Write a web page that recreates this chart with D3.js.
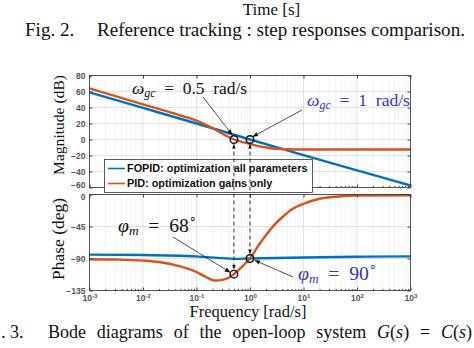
<!DOCTYPE html>
<html><head><meta charset="utf-8">
<script src="https://cdn.jsdelivr.net/npm/d3@7"></script>
<style>
body{margin:0;background:#fff;}
svg{display:block;}
.tk text{font-family:"Liberation Sans",Arial,sans-serif;font-size:8.5px;fill:#555;font-weight:bold;}
.serif{font-family:"Liberation Serif","Times New Roman",serif;}
</style></head>
<body>
<svg id="c" width="474" height="348"></svg>
<script>
// ---- data ----
const fopidMagW  = [0.001, 0.01, 0.1, 1, 10, 100, 1000];
const fopidMagDb = [59, 39.5, 20, 0, -19.5, -38.5, -57.5];
const pidMagW  = [0.001, 0.01, 0.05, 0.1, 0.2, 0.3, 0.5, 0.7, 1, 1.5, 2, 3, 5, 10, 100, 1000];
const pidMagDb = [64, 44, 30, 23.5, 14, 7.5, 0, -3, -5.5, -8.5, -10, -11.5, -12.2, -12.5, -12.5, -12.5];
const fopidPhW   = [0.001, 0.01, 0.1, 0.3, 0.5, 1, 10, 100, 1000];
const fopidPhDeg = [-84.5, -85, -87, -89.5, -90.5, -90, -88.5, -87.5, -87];
const pidPhW   = [0.001, 0.003, 0.01, 0.02, 0.05, 0.1, 0.15, 0.23, 0.3, 0.4, 0.5, 0.7, 1, 1.4, 2, 3, 4, 6, 10, 20, 50, 100, 1000];
const pidPhDeg = [-91, -91.5, -93, -95, -101, -109, -116, -121, -120, -117, -112, -102, -90, -73, -57, -41, -32, -21, -13, -6, -2.5, -1.5, -1];
const magTicks = [-60, -40, -20, 0, 20, 40, 60, 80];
const phTicks = [-135, -90, -45, 0];
const freqTickExps = [-3, -2, -1, 0, 1, 2, 3];
const seriesNames = ["FOPID: optimization all parameters", "PID: optimization gains only"];
const seriesColors = ["#0072BD", "#D95319"];
const crossW = [0.5, 1];        // gain crossover frequencies
const crossMag = [0, 0];
const crossPh = [-112, -90];

const svg = d3.select("#c");
const x = d3.scaleLog().domain([1e-3, 1e3]).range([89.5, 410.5]);
const yM = d3.scaleLinear().domain([-60, 80]).range([187.5, 75.5]);
const yP = d3.scaleLinear().domain([-135, 0]).range([290.5, 194.5]);

function fit(t, target){
  const fs = parseFloat(t.attr("font-size"));
  const w = t.node().getBBox().width;
  if (w > 0) t.attr("font-size", (fs * target / w).toFixed(2) + "px");
  return t;
}

const defs = svg.append("defs");
function mk(id, color, size){
  defs.append("marker").attr("id", id).attr("viewBox","0 0 10 10").attr("refX",9).attr("refY",5)
    .attr("markerWidth",size).attr("markerHeight",size).attr("orient","auto-start-reverse")
    .append("path").attr("d","M0,1 L10,5 L0,9 Z").attr("fill",color);
}
mk("ah","#111",7); mk("ahs","#111",5);

const minorW = [];
for (let e=-3;e<3;e++) for (let k=2;k<10;k++) minorW.push(k*Math.pow(10,e));
const majorW = freqTickExps.map(e=>Math.pow(10,e));

function panel(y, yt){
  const g = svg.append("g");
  const [x0,x1] = x.range(); const [yb,ytop] = y.range();
  g.append("rect").attr("x",x0).attr("y",ytop).attr("width",x1-x0).attr("height",yb-ytop).attr("fill","#fff");
  g.selectAll(".mn").data(minorW).join("line").attr("x1",d=>x(d)).attr("x2",d=>x(d)).attr("y1",ytop).attr("y2",yb)
    .attr("stroke","#ebebeb").attr("stroke-width",0.6);
  g.selectAll(".mj").data(majorW).join("line").attr("x1",d=>x(d)).attr("x2",d=>x(d)).attr("y1",ytop).attr("y2",yb)
    .attr("stroke","#d6d6d6").attr("stroke-width",0.7);
  g.selectAll(".hy").data(yt).join("line").attr("x1",x0).attr("x2",x1).attr("y1",d=>y(d)).attr("y2",d=>y(d))
    .attr("stroke","#d6d6d6").attr("stroke-width",0.7);
}
function frame(y, yt, showX, nudge){
  const [x0,x1] = x.range(); const [yb,ytop] = y.range();
  const ax = svg.append("g").attr("class","tk").attr("transform",`translate(${x0},0)`)
    .call(d3.axisLeft(y).tickValues(yt).tickSize(-3).tickPadding(4));
  ax.select(".domain").remove();
  ax.selectAll("line").attr("stroke","#444");
  ax.selectAll(".tick text").attr("dy", d => (nudge[d] !== undefined ? nudge[d] : 0.32) + "em");
  svg.append("g").attr("transform",`translate(${x1},0)`).call(d3.axisRight(y).tickValues(yt).tickSize(-3).tickFormat(""))
    .call(g=>{g.select(".domain").remove(); g.selectAll("line").attr("stroke","#444");});
  const bx = svg.append("g").attr("class","tk").attr("transform",`translate(0,${yb})`)
    .call(d3.axisBottom(x).tickValues(majorW).tickSize(-3).tickPadding(5).tickFormat(""));
  bx.select(".domain").remove(); bx.selectAll("line").attr("stroke","#444");
  svg.append("g").attr("transform",`translate(0,${yb})`)
    .call(d3.axisBottom(x).tickValues(minorW).tickSize(-1.5).tickFormat(""))
    .call(g=>{g.select(".domain").remove(); g.selectAll("line").attr("stroke","#444");});
  svg.append("g").attr("transform",`translate(0,${ytop})`)
    .call(d3.axisTop(x).tickValues(majorW).tickSize(-3).tickFormat(""))
    .call(g=>{g.select(".domain").remove(); g.selectAll("line").attr("stroke","#444");});
  if (showX){
    bx.selectAll(".tick").append("text").attr("y",10.5).attr("text-anchor","middle").attr("fill","#555")
      .attr("font-size","8px")
      .each(function(d){
        const t=d3.select(this); const e=Math.round(Math.log10(d));
        t.append("tspan").text("10");
        t.append("tspan").attr("dy",-3.5).attr("font-size","6px").text(e);
      });
  }
  svg.append("rect").attr("x",x0).attr("y",ytop).attr("width",x1-x0).attr("height",yb-ytop)
    .attr("fill","none").attr("stroke","#333").attr("stroke-width",0.8);
}

panel(yM, magTicks);
panel(yP, phTicks);

const lineM = d3.line().x(d=>x(d[0])).y(d=>yM(d[1])).curve(d3.curveMonotoneX);
const lineP = d3.line().x(d=>x(d[0])).y(d=>yP(d[1])).curve(d3.curveMonotoneX);
const zip = (a,b)=>a.map((v,i)=>[v,b[i]]);
svg.append("path").attr("d",lineM(zip(fopidMagW,fopidMagDb))).attr("fill","none").attr("stroke",seriesColors[0]).attr("stroke-width",2.4);
svg.append("path").attr("d",lineM(zip(pidMagW,pidMagDb))).attr("fill","none").attr("stroke",seriesColors[1]).attr("stroke-width",2.4);
svg.append("path").attr("d",lineP(zip(fopidPhW,fopidPhDeg))).attr("fill","none").attr("stroke",seriesColors[0]).attr("stroke-width",2.4);
svg.append("path").attr("d",lineP(zip(pidPhW,pidPhDeg))).attr("fill","none").attr("stroke",seriesColors[1]).attr("stroke-width",2.4);

frame(yM, magTicks, false, {"-60": 0.05});
frame(yP, phTicks, true, {"0": 0.6});

// legend
const lg = svg.append("g");
lg.append("rect").attr("x",104.5).attr("y",159.5).attr("width",208).attr("height",33).attr("fill","#fff").attr("stroke","#333").attr("stroke-width",0.8);
seriesNames.forEach((n,i)=>{
  const yy = 168.5 + i*15;
  lg.append("line").attr("x1",108).attr("x2",125).attr("y1",yy).attr("y2",yy).attr("stroke",seriesColors[i]).attr("stroke-width",1.6);
  const t = lg.append("text").attr("x",127).attr("y",yy+3.8).attr("font-family","Liberation Sans, Arial, sans-serif")
    .attr("font-size","10px").attr("font-weight","bold").attr("fill","#111").text(n);
  if (i === 0) fit(t, 181);
  else t.attr("font-size", lg.select("text").attr("font-size"));
});

// dashed double arrows between panels
crossW.forEach((w,i)=>{
  svg.append("line").attr("x1",x(w)).attr("x2",x(w)).attr("y1",yM(crossMag[i])+5).attr("y2",yP(crossPh[i])-5)
    .attr("stroke","#222").attr("stroke-width",0.9).attr("stroke-dasharray","4,3")
    .attr("marker-start","url(#ahs)").attr("marker-end","url(#ahs)");
});
crossW.forEach((w,i)=>{
  svg.append("circle").attr("cx",x(w)).attr("cy",yM(crossMag[i])).attr("r",3.8).attr("fill","none").attr("stroke","#111").attr("stroke-width",1.4);
  svg.append("circle").attr("cx",x(w)).attr("cy",yP(crossPh[i])).attr("r",3.8).attr("fill","none").attr("stroke","#111").attr("stroke-width",1.4);
});

function arrow(x1,y1,x2,y2){
  svg.append("line").attr("x1",x1).attr("y1",y1).attr("x2",x2).attr("y2",y2).attr("stroke","#222").attr("stroke-width",0.8).attr("marker-end","url(#ah)");
}
arrow(203, 97, x(0.5)-2, yM(0)-5);
arrow(302, 110, x(1)+3, yM(0)-3);
arrow(173, 237, x(0.5)-4, yP(-112)-2);
arrow(293, 277, x(1)+5, yP(-90)+2);

function mathLabel(xp, yp, sym, sub, rest, col, deg, target){
  const t = svg.append("text").attr("class","serif").attr("x",xp).attr("y",yp).attr("font-size","17px").attr("fill",col).attr("xml:space","preserve");
  t.append("tspan").attr("font-style","italic").text(sym);
  t.append("tspan").attr("font-style","italic").attr("font-size","0.68em").attr("dy","0.25em").text(sub);
  t.append("tspan").attr("dy","-0.17em").text("  =  " + rest);
  if (deg) t.append("tspan").attr("font-size","0.62em").attr("dy","-0.7em").text("∘");
  fit(t, target);
}
mathLabel(132, 94, "ω", "gc", "0.5  rad/s", "#111", false, 115);
mathLabel(307, 106, "ω", "gc", "1  rad/s", "#3333cc", false, 103);
mathLabel(118, 232, "φ", "m", "68", "#111", true, 79);
mathLabel(298, 280, "φ", "m", "90", "#3333cc", true, 79);

// axis titles
fit(svg.append("text").attr("class","serif").attr("transform","translate(64,125) rotate(-90)").attr("text-anchor","middle").attr("font-size","16px").attr("fill","#111").text("Magnitude (dB)"), 100);
fit(svg.append("text").attr("class","serif").attr("transform","translate(64,239) rotate(-90)").attr("text-anchor","middle").attr("font-size","16px").attr("fill","#111").text("Phase (deg)"), 82);
svg.append("text").attr("class","serif").attr("x",248).attr("y",317).attr("text-anchor","middle").attr("font-size","16.5px").attr("fill","#111").text("Frequency [rad/s]");

// captions
svg.append("text").attr("class","serif").attr("x",271.5).attr("y",15).attr("text-anchor","middle").attr("font-size","17px").attr("fill","#111").text("Time [s]");
const cap2a = svg.append("text").attr("class","serif").attr("x",25).attr("y",36).attr("font-size","17px").attr("fill","#111").text("Fig. 2.");
const cap2b = fit(svg.append("text").attr("class","serif").attr("x",97).attr("y",36).attr("font-size","17px").attr("fill","#111").text("Reference tracking : step responses comparison."), 368);
cap2a.attr("font-size", cap2b.attr("font-size"));
svg.append("text").attr("class","serif").attr("x",1).attr("y",337.5).attr("font-size","18px").attr("fill","#111").text(". 3.");
const c3 = svg.append("text").attr("class","serif").attr("x",48).attr("y",337.5).attr("font-size","18px").attr("fill","#111").attr("xml:space","preserve");
c3.append("tspan").text("Bode diagrams of the open-loop system ");
c3.append("tspan").attr("font-style","italic").text("G");
c3.append("tspan").text("(");
c3.append("tspan").attr("font-style","italic").text("s");
c3.append("tspan").text(") = ");
c3.append("tspan").attr("font-style","italic").text("C");
c3.append("tspan").text("(");
c3.append("tspan").attr("font-style","italic").text("s");
c3.append("tspan").text(")");
{
  const w = c3.node().getBBox().width;
  const extra = 424 - w;
  if (extra > 0) c3.attr("word-spacing", (extra / 8).toFixed(2) + "px");
}
</script>
</body></html>
